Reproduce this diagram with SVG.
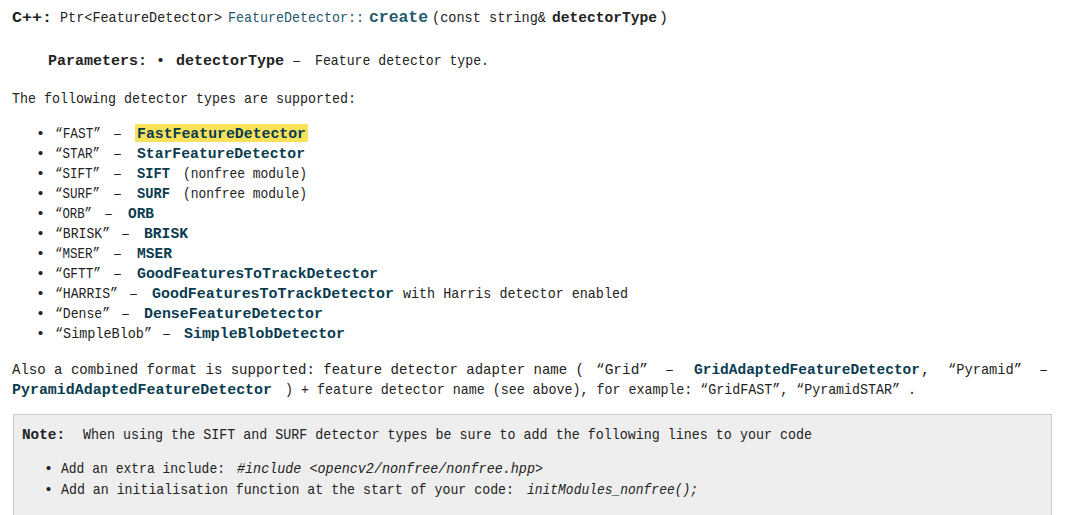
<svg xmlns="http://www.w3.org/2000/svg" width="1066" height="515" viewBox="0 0 1066 515">
<style>
text{font-family:"Liberation Mono","DejaVu Sans Mono",monospace;font-size:15px;fill:#222}
.b{font-weight:bold}
.l{font-weight:bold;fill:#0a3c50}
.t{fill:#1f5a70}
.c{font-weight:bold;fill:#1f5a70;font-size:17px}
.i{font-style:italic}
</style>
<rect width="1066" height="515" fill="#fff"/>
<g id="signature">
<text x="12" y="22" class="b" textLength="40" lengthAdjust="spacingAndGlyphs">C++:</text>
<text x="60" y="22" textLength="162" lengthAdjust="spacingAndGlyphs">Ptr&lt;FeatureDetector&gt;</text>
<text x="228" y="22" class="t" textLength="136" lengthAdjust="spacingAndGlyphs">FeatureDetector::</text>
<text x="369" y="22" class="c" textLength="59" lengthAdjust="spacingAndGlyphs">create</text>
<text x="432" y="22" textLength="114" lengthAdjust="spacingAndGlyphs">(const string&amp;</text>
<text x="552" y="22" class="b" textLength="105" lengthAdjust="spacingAndGlyphs">detectorType</text>
<text x="659" y="22">)</text>
</g>
<g id="params">
<text x="48" y="65" class="b" textLength="99" lengthAdjust="spacingAndGlyphs">Parameters:</text>
<text x="156" y="65">•</text>
<text x="176" y="65" class="b" textLength="108" lengthAdjust="spacingAndGlyphs">detectorType</text>
<text x="292" y="65">–</text>
<text x="315" y="65" textLength="174" lengthAdjust="spacingAndGlyphs">Feature detector type.</text>
</g>
<text x="12" y="103" textLength="344" lengthAdjust="spacingAndGlyphs">The following detector types are supported:</text>
<g id="list">
<rect x="135" y="124" width="173" height="18" fill="#f9e25a"/>
<g>
<text x="36" y="138">•</text><text x="55" y="138" textLength="46" lengthAdjust="spacingAndGlyphs">“FAST”</text><text x="113" y="138">–</text><text x="137" y="138" class="l" textLength="169" lengthAdjust="spacingAndGlyphs">FastFeatureDetector</text>
</g>
<g>
<text x="36" y="158">•</text><text x="55" y="158" textLength="45" lengthAdjust="spacingAndGlyphs">“STAR”</text><text x="113" y="158">–</text><text x="137" y="158" class="l" textLength="168" lengthAdjust="spacingAndGlyphs">StarFeatureDetector</text>
</g>
<g>
<text x="36" y="178">•</text><text x="55" y="178" textLength="45" lengthAdjust="spacingAndGlyphs">“SIFT”</text><text x="113" y="178">–</text><text x="137" y="178" class="l" textLength="33" lengthAdjust="spacingAndGlyphs">SIFT</text><text x="183" y="178" textLength="124" lengthAdjust="spacingAndGlyphs">(nonfree module)</text>
</g>
<g>
<text x="36" y="198">•</text><text x="55" y="198" textLength="45" lengthAdjust="spacingAndGlyphs">“SURF”</text><text x="113" y="198">–</text><text x="137" y="198" class="l" textLength="33" lengthAdjust="spacingAndGlyphs">SURF</text><text x="183" y="198" textLength="124" lengthAdjust="spacingAndGlyphs">(nonfree module)</text>
</g>
<g>
<text x="36" y="218">•</text><text x="55" y="218" textLength="37" lengthAdjust="spacingAndGlyphs">“ORB”</text><text x="104" y="218">–</text><text x="128" y="218" class="l" textLength="26" lengthAdjust="spacingAndGlyphs">ORB</text>
</g>
<g>
<text x="36" y="238">•</text><text x="55" y="238" textLength="55" lengthAdjust="spacingAndGlyphs">“BRISK”</text><text x="121" y="238">–</text><text x="144" y="238" class="l" textLength="44" lengthAdjust="spacingAndGlyphs">BRISK</text>
</g>
<g>
<text x="36" y="258">•</text><text x="55" y="258" textLength="45" lengthAdjust="spacingAndGlyphs">“MSER”</text><text x="113" y="258">–</text><text x="137" y="258" class="l" textLength="35" lengthAdjust="spacingAndGlyphs">MSER</text>
</g>
<g>
<text x="36" y="278">•</text><text x="55" y="278" textLength="46" lengthAdjust="spacingAndGlyphs">“GFTT”</text><text x="113" y="278">–</text><text x="137" y="278" class="l" textLength="241" lengthAdjust="spacingAndGlyphs">GoodFeaturesToTrackDetector</text>
</g>
<g>
<text x="36" y="298">•</text><text x="55" y="298" textLength="63" lengthAdjust="spacingAndGlyphs">“HARRIS”</text><text x="129" y="298">–</text><text x="152" y="298" class="l" textLength="242" lengthAdjust="spacingAndGlyphs">GoodFeaturesToTrackDetector</text><text x="403" y="298" textLength="225" lengthAdjust="spacingAndGlyphs">with Harris detector enabled</text>
</g>
<g>
<text x="36" y="318">•</text><text x="55" y="318" textLength="55" lengthAdjust="spacingAndGlyphs">“Dense”</text><text x="121" y="318">–</text><text x="144" y="318" class="l" textLength="179" lengthAdjust="spacingAndGlyphs">DenseFeatureDetector</text>
</g>
<g>
<text x="36" y="338">•</text><text x="55" y="338" textLength="97" lengthAdjust="spacingAndGlyphs">“SimpleBlob”</text><text x="162" y="338">–</text><text x="184" y="338" class="l" textLength="161" lengthAdjust="spacingAndGlyphs">SimpleBlobDetector</text>
</g>
</g>
<g id="combined">
<text x="12" y="374" textLength="572" lengthAdjust="spacingAndGlyphs">Also a combined format is supported: feature detector adapter name (</text>
<text x="596" y="374" textLength="52" lengthAdjust="spacingAndGlyphs">“Grid”</text>
<text x="665" y="374">–</text>
<text x="694" y="374" class="l" textLength="226" lengthAdjust="spacingAndGlyphs">GridAdaptedFeatureDetector</text>
<text x="921" y="374">,</text>
<text x="948" y="374" textLength="74" lengthAdjust="spacingAndGlyphs">“Pyramid”</text>
<text x="1039" y="374">–</text>
<text x="12" y="394" class="l" textLength="260" lengthAdjust="spacingAndGlyphs">PyramidAdaptedFeatureDetector</text>
<text x="285" y="394" textLength="631" lengthAdjust="spacingAndGlyphs">) + feature detector name (see above), for example: “GridFAST”, “PyramidSTAR” .</text>
</g>
<g id="note">
<rect x="13.5" y="414.5" width="1038" height="110" fill="#eeeeee" stroke="#cccccc"/>
<text x="22" y="439" class="b" textLength="43" lengthAdjust="spacingAndGlyphs">Note:</text>
<text x="83" y="439" textLength="729" lengthAdjust="spacingAndGlyphs">When using the SIFT and SURF detector types be sure to add the following lines to your code</text>
<text x="44" y="473">•</text>
<text x="61" y="473" textLength="164" lengthAdjust="spacingAndGlyphs">Add an extra include:</text>
<text x="237" y="473" class="i" textLength="306" lengthAdjust="spacingAndGlyphs">#include &lt;opencv2/nonfree/nonfree.hpp&gt;</text>
<text x="44" y="494">•</text>
<text x="61" y="494" textLength="453" lengthAdjust="spacingAndGlyphs">Add an initialisation function at the start of your code:</text>
<text x="527" y="494" class="i" textLength="171" lengthAdjust="spacingAndGlyphs">initModules_nonfree();</text>
</g>
</svg>
